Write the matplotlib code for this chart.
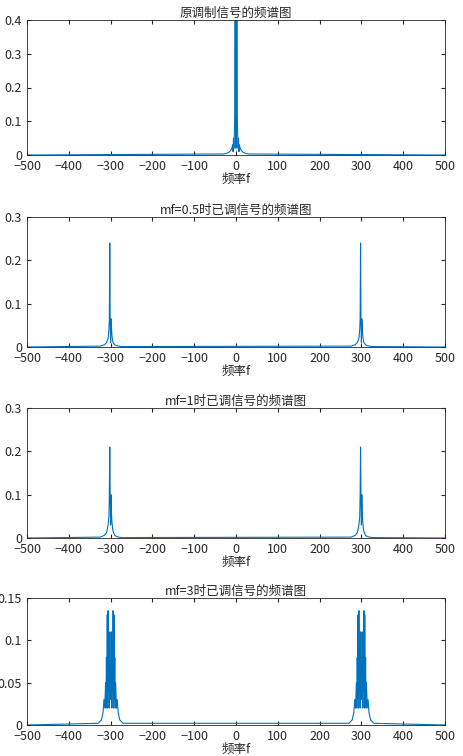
import numpy as np
import matplotlib.pyplot as plt

plt.rcParams['font.family'] = ['Noto Sans CJK SC', 'DejaVu Sans']

# spectrum samples (frequency, magnitude), one side of each peak
f1 = [-30, -20, -15, -12, -10, -8, -7, -6, -5, -4, -3, -2, -1, 0, 1, 2, 3, 4, 5, 6, 7, 8, 10, 12, 15, 20, 30]
a1 = [0.003, 0.006, 0.01, 0.015, 0.02, 0.03, 0.01, 0.05, 0.02, 0.06, 0.12, 0.40, 0.06, 0.02, 0.06, 0.40, 0.12, 0.06, 0.02, 0.05, 0.01, 0.03, 0.02, 0.015, 0.01, 0.006, 0.003]

off2 = [-25, -15, -10, -8, -6, -5, -4, -3, -2, -1, 0, 1, 2, 3, 4, 5, 6, 8, 10, 15, 25]
a2 = [0.002, 0.005, 0.01, 0.015, 0.02, 0.03, 0.04, 0.065, 0.24, 0.06, 0.01, 0.065, 0.05, 0.03, 0.02, 0.015, 0.01, 0.008, 0.005, 0.003, 0.001]

off3 = [-25, -15, -10, -8, -6, -5, -4, -3, -2, -1, 0, 1, 2, 3, 4, 5, 6, 8, 10, 15, 25]
a3 = [0.002, 0.006, 0.012, 0.02, 0.03, 0.04, 0.05, 0.1, 0.21, 0.1, 0.03, 0.1, 0.06, 0.04, 0.03, 0.02, 0.015, 0.01, 0.006, 0.003, 0.001]

off4 = [-30, -22, -18, -16, -14, -12, -11, -10, -9, -8, -7, -6, -5, -4, -3, -2, -1, 0, 1, 2, 3, 4, 5, 6, 7, 8, 9, 10, 11, 12, 14, 16, 18, 22, 30]
a4 = [0.002, 0.006, 0.015, 0.03, 0.02, 0.05, 0.02, 0.08, 0.03, 0.13, 0.02, 0.135, 0.04, 0.09, 0.02, 0.11, 0.03, 0.06, 0.03, 0.11, 0.02, 0.09, 0.04, 0.135, 0.02, 0.13, 0.03, 0.08, 0.02, 0.05, 0.02, 0.03, 0.015, 0.006, 0.002]

titles = ['原调制信号的频谱图', 'mf=0.5时已调信号的频谱图', 'mf=1时已调信号的频谱图', 'mf=3时已调信号的频谱图']
ylims = [0.4, 0.3, 0.3, 0.15]
yticks = [[0, 0.1, 0.2, 0.3, 0.4], [0, 0.1, 0.2, 0.3], [0, 0.1, 0.2, 0.3], [0, 0.05, 0.1, 0.15]]


def two_sided(off, a, fc=300):
    off = np.array(off)
    a = np.array(a)
    f = np.concatenate([[-500], -fc + off, fc + off, [500]])
    v = np.concatenate([[0], a, a, [0]])
    return f, v


curves = [(np.concatenate([[-500], f1, [500]]), np.concatenate([[0], a1, [0]])),
          two_sided(off2, a2), two_sided(off3, a3), two_sided(off4, a4)]

fig = plt.figure(figsize=(4.64, 7.56), dpi=100)
tops = [20, 217, 408, 598]
bots = [155, 347, 538, 725]
for i in range(4):
    ax = fig.add_axes([27 / 464, 1 - bots[i] / 756, 418 / 464, (bots[i] - tops[i]) / 756])
    f, v = curves[i]
    ax.plot(f, v, color='#0072BD', lw=0.8)
    ax.set_xlim(-500, 500)
    ax.set_ylim(0, ylims[i])
    ax.set_xticks(range(-500, 501, 100))
    ax.set_yticks(yticks[i])
    ax.set_yticklabels([('%g' % t) for t in yticks[i]])
    ax.tick_params(labelsize=9, direction='in', length=3, top=True, right=True, colors='#262626')
    ax.set_title(titles[i], fontsize=9, pad=2, color='#262626')
    ax.set_xlabel('频率f', fontsize=9, labelpad=0, color='#262626')
    for s in ax.spines.values():
        s.set_color('#262626')
        s.set_linewidth(0.6)

fig.savefig('out.png')
